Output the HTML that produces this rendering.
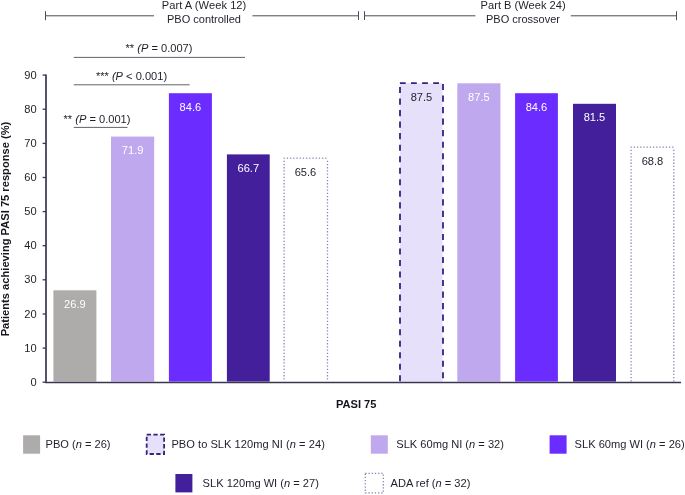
<!DOCTYPE html>
<html><head><meta charset="utf-8"><title>PASI 75</title>
<style>
html,body{margin:0;padding:0;background:#fff;}
svg{display:block;}
text{font-family:"Liberation Sans",Arial,sans-serif;font-size:11.1px;fill:#1F1F2A;}
.w{fill:#fff;}
.b{font-weight:bold;}
.m{text-anchor:middle;}
.e{text-anchor:end;}
</style></head><body>
<svg width="685" height="495" viewBox="0 0 685 495">
<rect width="685" height="495" fill="#fff"/>

<rect x="53.4" y="290.3" width="43" height="91.3" fill="#AEABAB"/>
<text class="w m" x="74.9" y="307.6">26.9</text>
<rect x="111.0" y="136.6" width="43.2" height="245.0" fill="#BFA8EE"/>
<text class="w m" x="132.6" y="154.1">71.9</text>
<rect x="168.9" y="93.2" width="43" height="288.4" fill="#6B2CFF"/>
<text class="w m" x="190.4" y="110.7">84.6</text>
<rect x="226.9" y="154.4" width="42.8" height="227.2" fill="#431F9B"/>
<text class="w m" x="248.3" y="171.8">66.7</text>
<path d="M283.6,158.1 H328.1 M284.1,160.7 V381.4 M327.5,160.7 V381.4" fill="none" stroke="#8686B2" stroke-width="1.3" stroke-dasharray="1.3 1.9"/>
<text class="m" x="305.5" y="175.6">65.6</text>
<rect x="400" y="83.3" width="42.5" height="298.3" fill="#E6E0FA"/>
<path d="M399.9,83.2 H439.5" fill="none" stroke="#37227F" stroke-width="1.7" stroke-dasharray="5.8 5.3"/>
<path d="M400.0,87.0 V381.4" fill="none" stroke="#37227F" stroke-width="1.8" stroke-dasharray="6.1 5.43"/>
<path d="M443.0,84.0 V381.4" fill="none" stroke="#37227F" stroke-width="1.8" stroke-dasharray="6.1 5.43"/>
<text class="m" x="421.5" y="100.8">87.5</text>
<rect x="457.3" y="83.3" width="43.1" height="298.3" fill="#BFA8EE"/>
<text class="w m" x="478.9" y="100.8">87.5</text>
<rect x="515.1" y="93.2" width="42.8" height="288.4" fill="#6B2CFF"/>
<text class="w m" x="536.5" y="110.7">84.6</text>
<rect x="573.0" y="103.8" width="43" height="277.8" fill="#431F9B"/>
<text class="w m" x="594.5" y="121.3">81.5</text>
<path d="M630.6,147.2 H674.4 M631.1,149.8 V381.4 M673.8,149.8 V381.4" fill="none" stroke="#8686B2" stroke-width="1.3" stroke-dasharray="1.3 1.9"/>
<text class="m" x="652.5" y="164.7">68.8</text>
<path d="M46,74.4 V382.5 H681" fill="none" stroke="#3A3652" stroke-width="1.7"/>
<path d="M42.6,382.2 H46" stroke="#3A3652" stroke-width="1.3"/>
<text class="e" x="36.6" y="385.8">0</text>
<path d="M42.6,348.1 H46" stroke="#3A3652" stroke-width="1.3"/>
<text class="e" x="36.6" y="351.7">10</text>
<path d="M42.6,314.0 H46" stroke="#3A3652" stroke-width="1.3"/>
<text class="e" x="36.6" y="317.6">20</text>
<path d="M42.6,279.8 H46" stroke="#3A3652" stroke-width="1.3"/>
<text class="e" x="36.6" y="283.4">30</text>
<path d="M42.6,245.7 H46" stroke="#3A3652" stroke-width="1.3"/>
<text class="e" x="36.6" y="249.3">40</text>
<path d="M42.6,211.6 H46" stroke="#3A3652" stroke-width="1.3"/>
<text class="e" x="36.6" y="215.2">50</text>
<path d="M42.6,177.5 H46" stroke="#3A3652" stroke-width="1.3"/>
<text class="e" x="36.6" y="181.1">60</text>
<path d="M42.6,143.4 H46" stroke="#3A3652" stroke-width="1.3"/>
<text class="e" x="36.6" y="147.0">70</text>
<path d="M42.6,109.2 H46" stroke="#3A3652" stroke-width="1.3"/>
<text class="e" x="36.6" y="112.8">80</text>
<path d="M42.6,75.1 H46" stroke="#3A3652" stroke-width="1.3"/>
<text class="e" x="36.6" y="78.7">90</text>
<text class="b m" style="font-size:11.15px;fill:#16161E" transform="translate(9.0,229) rotate(-90)">Patients achieving PASI 75 response (%)</text>
<text class="b m" style="fill:#16161E" x="356.2" y="407.7">PASI 75</text>
<path d="M45.5,11.2 V20.2 M45.5,15.8 H154 M252.4,15.8 H358.5 M358.5,11.2 V20 M364.5,11.2 V20 M364.5,15.8 H475.4 M570.8,15.8 H676.5 M676.5,11.2 V20.2" fill="none" stroke="#4C4C5A" stroke-width="1"/>
<text class="m" x="204" y="9.4" textLength="84.6" lengthAdjust="spacing">Part A (Week 12)</text>
<text class="m" x="204" y="22.7" style="font-size:11px">PBO controlled</text>
<text class="m" x="523.1" y="9.4" textLength="85" lengthAdjust="spacing">Part B (Week 24)</text>
<text class="m" x="523" y="22.7" style="font-size:11px">PBO crossover</text>
<path d="M73.8,57.4 H245 M73.8,84.8 H189.6 M73.8,127.4 H127.5" fill="none" stroke="#62626E" stroke-width="1"/>
<text class="m" x="159" y="52.2">** <tspan font-style="italic">(P</tspan> = 0.007)</text>
<text class="m" x="131.5" y="79.8">*** <tspan font-style="italic">(P</tspan> &lt; 0.001)</text>
<text class="m" x="97" y="122.7">** <tspan font-style="italic">(P</tspan> = 0.001)</text>
<rect x="23.1" y="435.3" width="17" height="18.4" fill="#AEABAB"/>
<text x="45.5" y="447.7">PBO (<tspan font-style="italic">n</tspan> = 26)</text>
<rect x="146.7" y="434.7" width="17.4" height="19.3" fill="#E6E0FA" stroke="#37227F" stroke-width="1.8" stroke-dasharray="4.3 2.4"/>
<text x="171.4" y="447.7"><tspan letter-spacing="0.03">PBO to SLK 120mg NI (<tspan font-style="italic">n</tspan> = 24)</tspan></text>
<rect x="370.8" y="435.3" width="17" height="18.4" fill="#BFA8EE"/>
<text x="396.3" y="447.7">SLK 60mg NI (<tspan font-style="italic">n</tspan> = 32)</text>
<rect x="549.6" y="435.3" width="17" height="18.4" fill="#6B2CFF"/>
<text x="574.6" y="447.7">SLK 60mg WI (<tspan font-style="italic">n</tspan> = 26)</text>
<rect x="175.4" y="474" width="17" height="18.4" fill="#431F9B"/>
<text x="202.6" y="487">SLK 120mg WI (<tspan font-style="italic">n</tspan> = 27)</text>
<rect x="365.3" y="473.3" width="18" height="19.6" fill="#fff" stroke="#8686B2" stroke-width="1.3" stroke-dasharray="1.3 1.9"/>
<text x="390.5" y="487">ADA ref (<tspan font-style="italic">n</tspan> = 32)</text>
</svg></body></html>
